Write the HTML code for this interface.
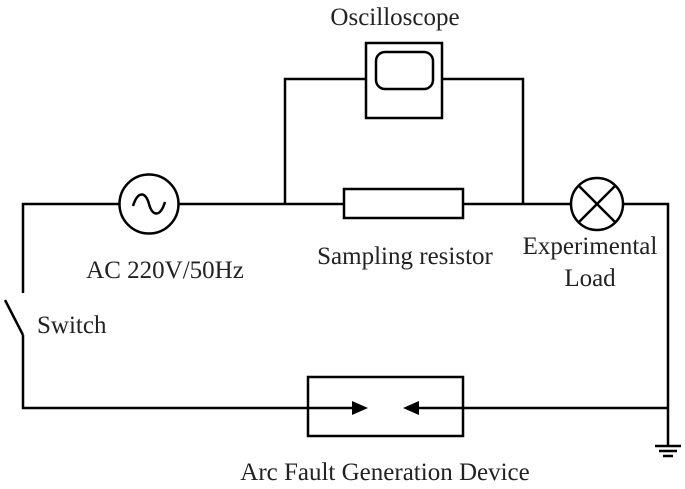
<!DOCTYPE html>
<html><head><style>html,body{margin:0;padding:0;background:#fff}</style></head><body>
<svg width="685" height="489" xmlns="http://www.w3.org/2000/svg" style="display:block">
<g fill="none" stroke="#000" stroke-width="2.5">
<polyline points="23,293 23,204 119,204"/>
<circle cx="149" cy="204" r="29.5"/>
<path d="M133,206 C138,190 146,192 149,204 C152,216 160,218 165,202"/>
<line x1="179" y1="204" x2="344" y2="204"/>
<rect x="344" y="189" width="119" height="29"/>
<line x1="463" y1="204" x2="571" y2="204"/>
<polyline points="285,204 285,79 366,79"/>
<polyline points="442,79 523,79 523,204"/>
<rect x="366" y="43" width="76" height="75"/>
<rect x="376" y="52" width="57" height="37" rx="9"/>
<circle cx="597" cy="204" r="26"/>
<line x1="579" y1="186" x2="615" y2="222"/>
<line x1="615" y1="186" x2="579" y2="222"/>
<polyline points="623,204 668,204 668,446"/>
<line x1="5" y1="300" x2="23" y2="335"/>
<polyline points="23,335 23,408 355,408"/>
<line x1="416" y1="408" x2="668" y2="408"/>
<rect x="308" y="377" width="155" height="59"/>
<line x1="655" y1="446" x2="681" y2="446"/>
<line x1="659" y1="451" x2="677" y2="451"/>
<line x1="663" y1="456" x2="673" y2="456"/>
</g>
<polygon points="368,408 352,401 352,415" fill="#000"/>
<polygon points="403,408 419,401 419,415" fill="#000"/>
<g font-family="Liberation Serif, serif" font-size="25" fill="#222">
<text x="395" y="25" text-anchor="middle">Oscilloscope</text>
<text x="165" y="278" text-anchor="middle">AC 220V/50Hz</text>
<text x="405" y="264" text-anchor="middle">Sampling resistor</text>
<text x="590" y="254" text-anchor="middle">Experimental</text>
<text x="590" y="286" text-anchor="middle">Load</text>
<text x="37" y="333">Switch</text>
<text x="385" y="480" text-anchor="middle">Arc Fault Generation Device</text>
</g>
</svg>
</body></html>
